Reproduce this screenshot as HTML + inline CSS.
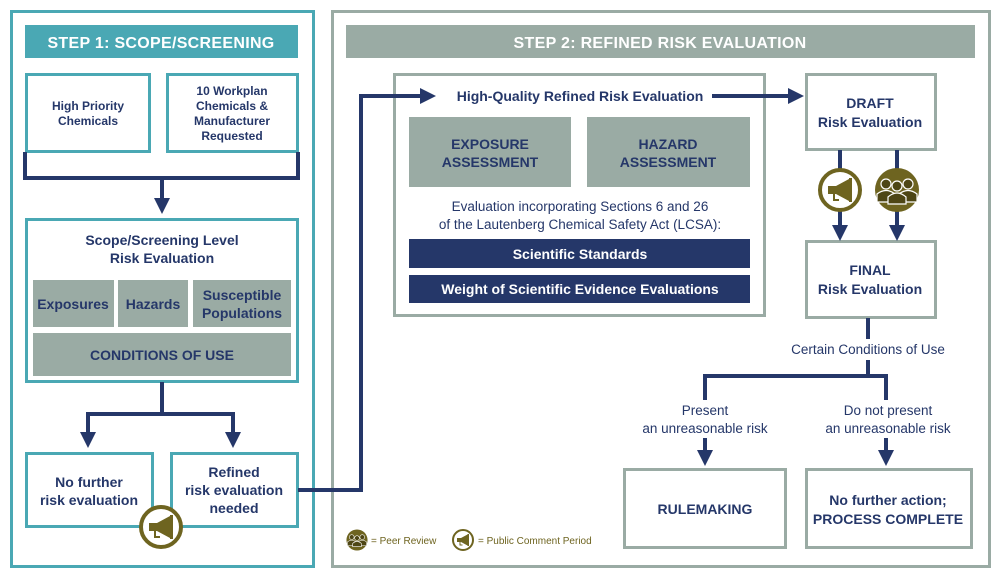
<!DOCTYPE html>
<html><head><meta charset="utf-8"><style>
html,body{margin:0;padding:0;background:#fff;}
svg{display:block;font-family:"Liberation Sans",sans-serif;}
.b{font-weight:bold;fill:#253769;}
</style></head><body>
<svg width="1000" height="574" viewBox="0 0 1000 574" xmlns="http://www.w3.org/2000/svg">
<defs>
<marker id="ah" markerWidth="4" markerHeight="4" refX="2" refY="2" orient="auto" markerUnits="strokeWidth"><path d="M0,0 L4,2 L0,4 Z" fill="#253769"/></marker>
<g id="mega"><circle r="20" fill="#fff" stroke="#6e6420" stroke-width="4"/><path d="M-12,-4 L-4,-4 L9,-11 L9,11 L-4,4 L-12,4 Z" fill="#6e6420"/><rect x="9" y="-12" width="3" height="24" fill="#6e6420"/><path d="M-6,4 L-6,10 L-1,10" fill="none" stroke="#6e6420" stroke-width="2"/></g>
<g id="peer"><circle r="22" fill="#6e6420"/><g fill="#4e4615" stroke="#fff" stroke-width="1.2"><circle cx="-11" cy="-6" r="5"/><circle cx="11" cy="-6" r="5"/><path d="M-20,12 L-20,4 Q-11,-3 -2,4 L-2,12 Z"/><path d="M20,12 L20,4 Q11,-3 2,4 L2,12 Z"/><circle cx="0" cy="-4" r="5"/><path d="M-9,14 L-9,7 Q0,-1 9,7 L9,14 Z"/></g></g>
</defs>
<rect x="11.5" y="11.5" width="302" height="555" fill="none" stroke="#4aa8b4" stroke-width="3"/>
<rect x="332.5" y="11.5" width="657" height="555" fill="none" stroke="#9aaba4" stroke-width="3"/>
<rect x="25" y="25" width="273" height="33" fill="#4aa8b4"/>
<text x="161" y="48" text-anchor="middle" font-size="16" font-weight="bold" fill="#fff" letter-spacing="0.3">STEP 1: SCOPE/SCREENING</text>
<rect x="346" y="25" width="629" height="33" fill="#9aaba4"/>
<text x="660" y="48" text-anchor="middle" font-size="16" font-weight="bold" fill="#fff" letter-spacing="0.3">STEP 2: REFINED RISK EVALUATION</text>
<g fill="none" stroke="#4aa8b4" stroke-width="3">
<rect x="26.5" y="74.5" width="123" height="77"/>
<rect x="167.5" y="74.5" width="130" height="77"/>
<rect x="26.5" y="219.5" width="271" height="162"/>
<rect x="26.5" y="453.5" width="126" height="73"/>
<rect x="171.5" y="453.5" width="126" height="73"/>
</g>
<g fill="none" stroke="#9aaba4" stroke-width="3">
<rect x="394.5" y="74.5" width="370" height="241"/>
<rect x="806.5" y="74.5" width="129" height="75"/>
<rect x="806.5" y="241.5" width="129" height="76"/>
<rect x="624.5" y="469.5" width="161" height="78"/>
<rect x="806.5" y="469.5" width="165" height="78"/>
</g>
<g font-size="12" text-anchor="middle">
<text x="88" y="110" class="b">High Priority</text><text x="88" y="125" class="b">Chemicals</text>
<text x="232" y="95" class="b">10 Workplan</text><text x="232" y="110" class="b">Chemicals &amp;</text><text x="232" y="125" class="b">Manufacturer</text><text x="232" y="140" class="b">Requested</text>
</g>
<g font-size="14" text-anchor="middle">
<text x="162" y="245" class="b">Scope/Screening Level</text><text x="162" y="263" class="b">Risk Evaluation</text>
<text x="89" y="487" class="b">No further</text><text x="89" y="505" class="b">risk evaluation</text>
<text x="234" y="477" class="b">Refined</text><text x="234" y="495" class="b">risk evaluation</text><text x="234" y="513" class="b">needed</text>
<text x="870" y="108" class="b">DRAFT</text><text x="870" y="127" class="b">Risk Evaluation</text>
<text x="870" y="275" class="b">FINAL</text><text x="870" y="294" class="b">Risk Evaluation</text>
<text x="705" y="514" class="b">RULEMAKING</text>
<text x="888" y="505" class="b">No further action;</text><text x="888" y="524" class="b">PROCESS COMPLETE</text>
<text x="580" y="101" class="b">High-Quality Refined Risk Evaluation</text>
</g>
<g fill="#9aaba4">
<rect x="33" y="280" width="81" height="47"/><rect x="118" y="280" width="70" height="47"/><rect x="193" y="280" width="98" height="47"/>
<rect x="33" y="333" width="258" height="43"/>
<rect x="409" y="117" width="162" height="70"/><rect x="587" y="117" width="163" height="70"/>
</g>
<g font-size="14" text-anchor="middle">
<text x="73" y="309" class="b">Exposures</text><text x="153" y="309" class="b">Hazards</text>
<text x="242" y="300" class="b">Susceptible</text><text x="242" y="318" class="b">Populations</text>
<text x="162" y="360" class="b">CONDITIONS OF USE</text>
<text x="490" y="149" class="b">EXPOSURE</text><text x="490" y="167" class="b">ASSESSMENT</text>
<text x="668" y="149" class="b">HAZARD</text><text x="668" y="167" class="b">ASSESSMENT</text>
</g>
<g font-size="13.5" fill="#253769" text-anchor="middle">
<text x="580" y="211">Evaluation incorporating Sections 6 and 26</text>
<text x="580" y="229">of the Lautenberg Chemical Safety Act (LCSA):</text>
</g>
<rect x="409" y="239" width="341" height="29" fill="#253769"/>
<rect x="409" y="275" width="341" height="28" fill="#253769"/>
<text x="580" y="259" text-anchor="middle" font-size="14" font-weight="bold" fill="#fff">Scientific Standards</text>
<text x="580" y="294" text-anchor="middle" font-size="14" font-weight="bold" fill="#fff">Weight of Scientific Evidence Evaluations</text>
<g fill="none" stroke="#253769" stroke-width="4">
<path d="M25,152 V178 H298 V152"/>
<path d="M162,178 V206" marker-end="url(#ah)"/>
<path d="M162,382 V414 H88 V440 M162,414 H233 V440"/>
<path d="M88,414 V440" marker-end="url(#ah)"/><path d="M233,414 V440" marker-end="url(#ah)"/>
<path d="M298,490 H361 V96 H428" marker-end="url(#ah)"/>
<path d="M712,96 H796" marker-end="url(#ah)"/>
<path d="M840,150 V233" marker-end="url(#ah)"/><path d="M897,150 V233" marker-end="url(#ah)"/>
<path d="M868,318 V339 M868,360 V376 H705 V400 M705,438 V459 M868,376 H886 V400 M886,438 V459"/>
<path d="M705,440 V458" marker-end="url(#ah)"/><path d="M886,440 V458" marker-end="url(#ah)"/>
</g>
<g font-size="13.5" fill="#253769" text-anchor="middle">
<text x="868" y="354">Certain Conditions of Use</text>
<text x="705" y="415">Present</text><text x="705" y="433">an unreasonable risk</text>
<text x="888" y="415">Do not present</text><text x="888" y="433">an unreasonable risk</text>
</g>
<use href="#mega" x="161" y="527"/>
<use href="#mega" x="840" y="190"/>
<use href="#peer" x="897" y="190"/>
<use href="#peer" transform="translate(357,540) scale(0.48)"/>
<use href="#mega" transform="translate(463,540) scale(0.5)"/>
<text x="371" y="544" font-size="10" fill="#6e6420">= Peer Review</text>
<text x="478" y="544" font-size="10" fill="#6e6420">= Public Comment Period</text>
</svg>
</body></html>
